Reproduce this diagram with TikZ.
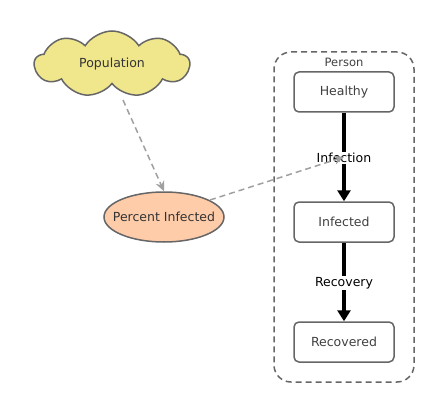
\documentclass[tikz,border=0pt]{standalone}
\usepackage{fontspec}
\setmainfont{DejaVu Sans}
\usetikzlibrary{shapes.geometric,shapes.symbols,arrows.meta}
\definecolor{strk}{HTML}{666666}
\definecolor{popfill}{HTML}{F0E68C}
\definecolor{pifill}{HTML}{FFCCAA}
\definecolor{dgray}{HTML}{A0A0A0}
\tikzset{
  txt/.style={font=\fontsize{12.5}{14}\selectfont},
  statebox/.style={txt, draw=strk, line width=1.5pt, rounded corners=5pt, fill=white, minimum width=100pt, minimum height=40pt, text=black!75},
  flowarrow/.style={line width=3.5pt, -{Triangle[length=11pt,width=13pt]}},
  linkarrow/.style={draw=dgray, line width=1.5pt, dash pattern=on 6pt off 4pt, -{Stealth[length=10pt,width=9pt,fill=dgray]}},
  lbl/.style={txt, fill=white, inner sep=1.5pt}
}
\begin{document}
\begin{tikzpicture}[x=1pt,y=-1pt]
\useasboundingbox (0,0) rectangle (437,404);
\node[draw=strk, line width=1.5pt, dash pattern=on 6pt off 4pt, rounded corners=17pt, minimum width=140pt, minimum height=330pt] (person) at (344,217) {};
\node[txt, text=black!75, font=\fontsize{11.5}{13}\selectfont] (plbl) at (344,62) {Person};
\node[cloud, cloud puffs=9, cloud puff arc=115, aspect=2.4, draw=strk, line width=1.5pt, fill=popfill, minimum width=155pt, minimum height=66pt, inner sep=0pt, txt, text=black!80] (pop) at (112,64) {Population};
\node[ellipse, draw=strk, line width=1.5pt, fill=pifill, minimum width=120pt, minimum height=50pt, inner sep=0pt] (pi) at (164,217) {};
\node[txt, text=black!80, inner sep=0pt] (pitxt) at (pi.center) {Percent Infected};
\node[statebox] (healthy) at (344,92) {Healthy};
\node[statebox] (infected) at (344,222) {Infected};
\node[statebox] (recovered) at (344,342) {Recovered};
\draw[flowarrow] (healthy) -- (infected) coordinate[pos=0.5] (infc);
\draw[flowarrow] (infected) -- (recovered);
\node[lbl] (ilbl) at (344,158) {Infection};
\node[lbl] (rlbl) at (344,283) {Recovery};
\coordinate (pops) at (123,100);
\draw[linkarrow] (pops) -- (pi.north);
\coordinate (pine) at (210,200);
\draw[linkarrow] (pine) -- (infc);
\end{tikzpicture}
\end{document}
